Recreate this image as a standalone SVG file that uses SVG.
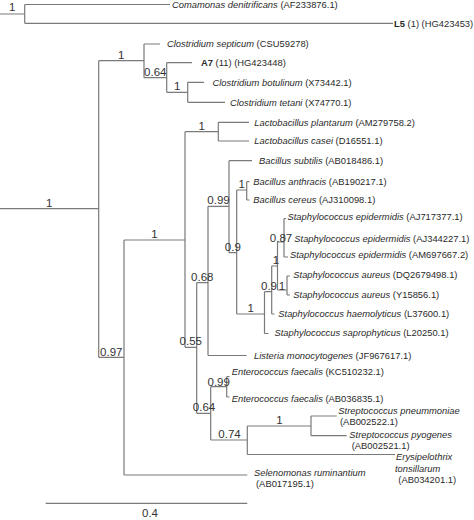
<svg xmlns="http://www.w3.org/2000/svg" width="474" height="520" viewBox="0 0 474 520">
<style>
.ln{fill:none;stroke:#7a7a7a;stroke-width:1.2}
.lf{font-family:"Liberation Sans",Arial,sans-serif;font-size:9.4px;fill:#2a2a2a}
.sp{font-style:italic}
.b{font-weight:bold}
.bs{font-family:"Liberation Sans",Arial,sans-serif;font-size:11.5px;fill:#333;text-anchor:middle}
</style>
<rect width="474" height="520" fill="#fff"/>
<g id="connectors" class="ln">
<path d="M0,14H24.7M24.7,4.5V23.3M24.7,4.5H170M24.7,23.3H393"/>
<path d="M0,208.7H98.7M98.7,60.7V357.3"/>
<path d="M98.7,60.7H144M144,44V77.7M144,44H160M144,77.7H166.7M166.7,62.7V92.3M166.7,62.7H192M166.7,92.3H187.7M187.7,82.3V102.3M187.7,82.3H204M187.7,102.3H225"/>
<path d="M98.7,357.3H124M124,240V475M124,475H247.3M124,240H185M185,131.7V347.3M185,131.7H218.3M218.3,122.3V141M218.3,122.3H249M218.3,141H249"/>
<path d="M185,347.3H196.7M196.7,282.7V413.3M196.7,282.7H208M208,206.3V355.5M208,355.5H246.7M208,206.3H229M229,160.7V252.7M229,160.7H252M229,252.7H236.7M236.7,190V314M236.7,190H246.7M246.7,181.7V200M246.7,181.7H249.5M246.7,200H249.5"/>
<path d="M236.7,314H264.5M264.5,291.7V333.5M264.5,333.5H268.5M264.5,291.7H271.7M271.7,266V314M271.7,314H274.5M271.7,266H277.5M277.5,242V290M277.5,242H284M284,218.5V257M284,218.5H286M284,238H286M284,257H288M277.5,290H287M287,276V295M287,276H290M287,295H290"/>
<path d="M196.7,413.3H210.7M210.7,386.7V440M210.7,386.7H226.7M226.7,376.7V397M226.7,376.7H229.5M226.7,397H229.5M210.7,440H247.3M247.3,426V454.5M247.3,454.5H395M247.3,426H311M311,416V435.7M311,416H336.7M311,435.7H346.7"/>
<path d="M45.7,503.3H247.3"/>
</g>
<g id="leaf-comamonas"><text class="lf" x="172" y="8"><tspan class="sp">Comamonas denitrificans</tspan> (AF233876.1)</text></g>
<g id="leaf-L5"><text class="lf" x="394" y="26.7"><tspan class="b">L5</tspan> (1) (HG423453)</text></g>
<g id="leaf-septicum"><text class="lf" x="167" y="47.4"><tspan class="sp">Clostridium septicum</tspan> (CSU59278)</text></g>
<g id="leaf-A7"><text class="lf" x="201" y="66"><tspan class="b">A7</tspan> (11) (HG423448)</text></g>
<g id="leaf-botulinum"><text class="lf" x="212.5" y="85.7"><tspan class="sp">Clostridium botulinum</tspan> (X73442.1)</text></g>
<g id="leaf-tetani"><text class="lf" x="230" y="105.7"><tspan class="sp">Clostridium tetani</tspan> (X74770.1)</text></g>
<g id="leaf-plantarum"><text class="lf" x="254.3" y="125.7"><tspan class="sp">Lactobacillus plantarum</tspan> (AM279758.2)</text></g>
<g id="leaf-casei"><text class="lf" x="254.3" y="144.4"><tspan class="sp">Lactobacillus casei</tspan> (D16551.1)</text></g>
<g id="leaf-subtilis"><text class="lf" x="259" y="164.3"><tspan class="sp">Bacillus subtilis</tspan> (AB018486.1)</text></g>
<g id="leaf-anthracis"><text class="lf" x="253.3" y="185"><tspan class="sp">Bacillus anthracis</tspan> (AB190217.1)</text></g>
<g id="leaf-cereus"><text class="lf" x="253.3" y="203.4"><tspan class="sp">Bacillus cereus</tspan> (AJ310098.1)</text></g>
<g id="leaf-epi1"><text class="lf" x="287.5" y="220.1"><tspan class="sp">Staphylococcus epidermidis</tspan> (AJ717377.1)</text></g>
<g id="leaf-epi2"><text class="lf" x="294.3" y="241.7"><tspan class="sp">Staphylococcus epidermidis</tspan> (AJ344227.1)</text></g>
<g id="leaf-epi3"><text class="lf" x="290" y="258.4"><tspan class="sp">Staphylococcus epidermidis</tspan> (AM697667.2)</text></g>
<g id="leaf-aureus1"><text class="lf" x="293.3" y="278.4"><tspan class="sp">Staphylococcus aureus</tspan> (DQ2679498.1)</text></g>
<g id="leaf-aureus2"><text class="lf" x="293.3" y="297.7"><tspan class="sp">Staphylococcus aureus</tspan> (Y15856.1)</text></g>
<g id="leaf-haemolyticus"><text class="lf" x="278.3" y="317"><tspan class="sp">Staphylococcus haemolyticus</tspan> (L37600.1)</text></g>
<g id="leaf-saprophyticus"><text class="lf" x="274.5" y="336.3"><tspan class="sp">Staphylococcus saprophyticus</tspan> (L20250.1)</text></g>
<g id="leaf-listeria"><text class="lf" x="254" y="359"><tspan class="sp">Listeria monocytogenes</tspan> (JF967617.1)</text></g>
<g id="leaf-ent1"><text class="lf" x="231.7" y="375.4"><tspan class="sp">Enterococcus faecalis</tspan> (KC510232.1)</text></g>
<g id="leaf-ent2"><text class="lf" x="231.7" y="401.7"><tspan class="sp">Enterococcus faecalis</tspan> (AB036835.1)</text></g>
<g id="leaf-pneumoniae"><text class="lf" x="338.3" y="414.4"><tspan class="sp">Streptococcus pneummoniae</tspan></text><text class="lf" x="340" y="425.1">(AB002522.1)</text></g>
<g id="leaf-pyogenes"><text class="lf" x="349.3" y="437.7"><tspan class="sp">Streptococcus pyogenes</tspan></text><text class="lf" x="351.7" y="449.1">(AB002521.1)</text></g>
<g id="leaf-erysipelothrix"><text class="lf sp" x="396" y="460.1">Erysipelothrix</text><text class="lf sp" x="395" y="471.7">tonsillarum</text><text class="lf" x="398.3" y="482.7">(AB034201.1)</text></g>
<g id="leaf-selenomonas"><text class="lf sp" x="254" y="475.7">Selenomonas ruminantium</text><text class="lf" x="256" y="486.7">(AB017195.1)</text></g>
<g id="node-root2"><text class="bs" x="12.3" y="11">1</text></g>
<g id="node-root"><text class="bs" x="49.3" y="206.5">1</text></g>
<g id="node-097"><text class="bs" x="111.3" y="355.5">0.97</text></g>
<g id="node-clos"><text class="bs" x="121.3" y="58.5">1</text></g>
<g id="node-clos064"><text class="bs" x="155.3" y="75.7">0.64</text></g>
<g id="node-clos1"><text class="bs" x="177.2" y="90.3">1</text></g>
<g id="node-firm"><text class="bs" x="154.5" y="238">1</text></g>
<g id="node-lacto"><text class="bs" x="201.6" y="129.7">1</text></g>
<g id="node-055"><text class="bs" x="190.8" y="345.3">0.55</text></g>
<g id="node-068"><text class="bs" x="202.3" y="280.7">0.68</text></g>
<g id="node-099"><text class="bs" x="218.5" y="204.3">0.99</text></g>
<g id="node-09"><text class="bs" x="232.8" y="250.7">0.9</text></g>
<g id="node-bac"><text class="bs" x="241.7" y="188">1</text></g>
<g id="node-staph"><text class="bs" x="250.6" y="312">1</text></g>
<g id="node-staph09"><text class="bs" x="269" y="289.5">0.9</text></g>
<g id="node-aureus"><text class="bs" x="282" y="289.5">1</text></g>
<g id="node-staphC"><text class="bs" x="276" y="264">1</text></g>
<g id="node-087"><text class="bs" x="281" y="242.4">0.87</text></g>
<g id="node-ent099"><text class="bs" x="218.7" y="385.5">0.99</text></g>
<g id="node-064"><text class="bs" x="204" y="411.3">0.64</text></g>
<g id="node-074"><text class="bs" x="229.5" y="438">0.74</text></g>
<g id="node-strep"><text class="bs" x="279.5" y="423.5">1</text></g>
<g id="scale"><text class="bs" x="150" y="516.5">0.4</text></g>
</svg>
